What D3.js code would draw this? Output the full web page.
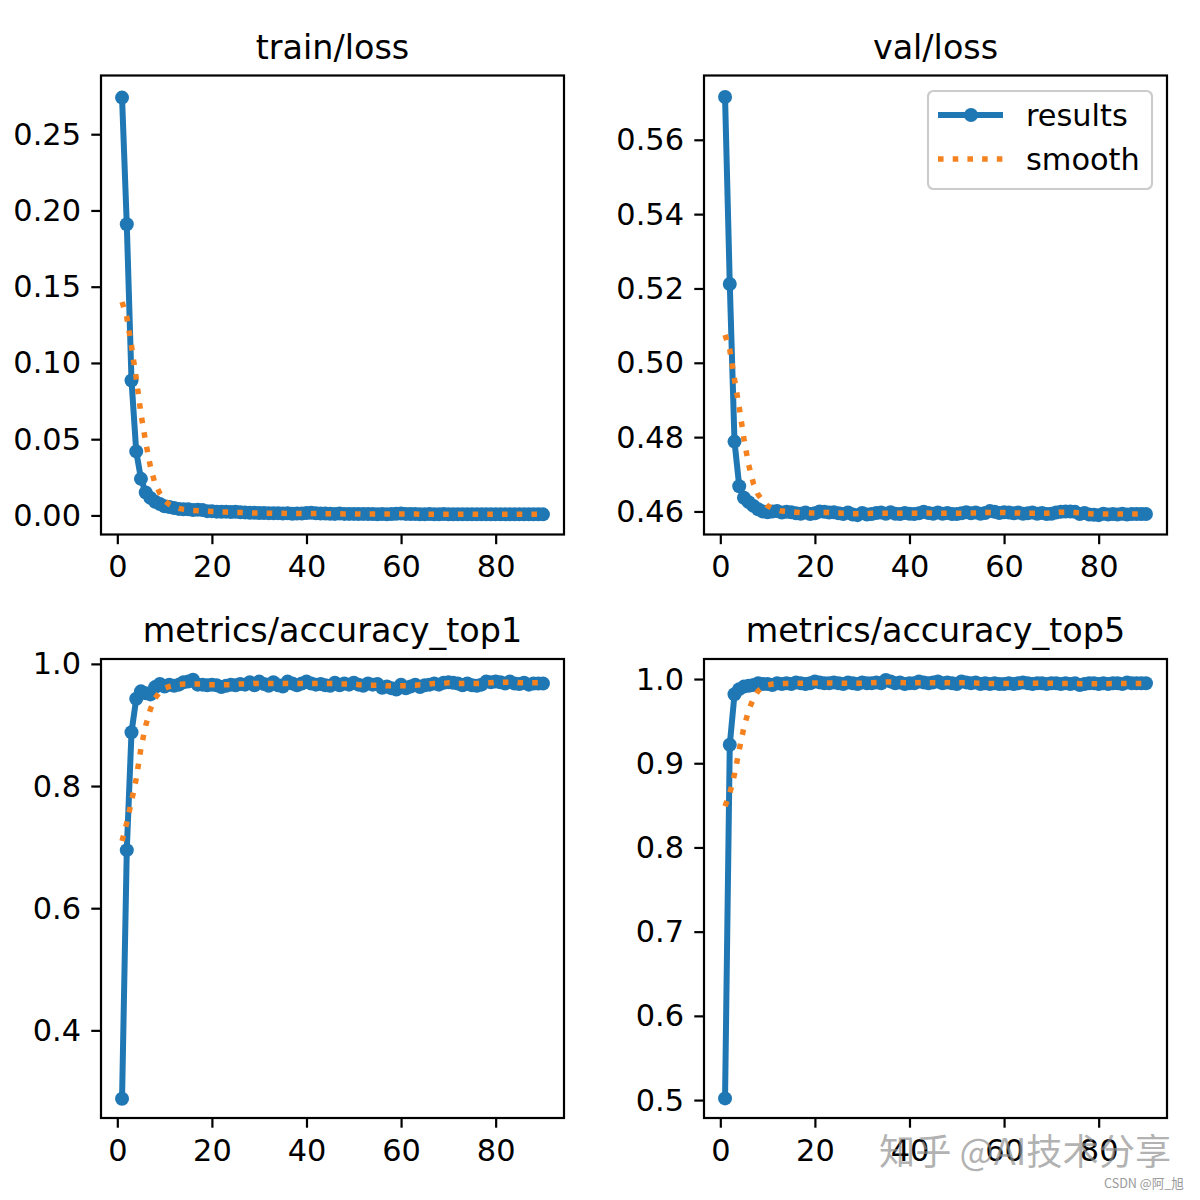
<!DOCTYPE html>
<html>
<head>
<meta charset="utf-8">
<script src="https://cdn.jsdelivr.net/npm/d3@7"></script>
<style>
  html, body { margin: 0; padding: 0; background: #fff; }
  svg { display: block; }
  text { font-family: "DejaVu Sans", sans-serif; fill: #000; }
</style>
</head>
<body>
<div id="chart"></div>
<script>
const epochs = d3.range(1, 91);

const trainLoss = [
  0.274, 0.191, 0.0885, 0.042, 0.024, 0.015, 0.0115, 0.009, 0.0075, 0.006,
  0.0055, 0.0048, 0.0043, 0.004, 0.004, 0.0035, 0.0038, 0.0035, 0.0028, 0.0028,
  0.0025, 0.0024, 0.0025, 0.0023, 0.0024, 0.0021, 0.002, 0.0017, 0.0018, 0.0016,
  0.0016, 0.0015, 0.0014, 0.0015, 0.0013, 0.0014, 0.0011, 0.0013, 0.0012, 0.0016,
  0.0017, 0.0014, 0.0012, 0.0012, 0.0011, 0.001, 0.0012, 0.001, 0.001, 0.001,
  0.0009, 0.001, 0.0009, 0.0009, 0.0008, 0.0009, 0.0008, 0.0009, 0.0011, 0.0012,
  0.001, 0.0009, 0.0009, 0.0008, 0.0008, 0.0009, 0.0008, 0.0008, 0.0009, 0.0008,
  0.0008, 0.0007, 0.0008, 0.0008, 0.0007, 0.0008, 0.0007, 0.0007, 0.0008, 0.0007,
  0.0007, 0.0007, 0.0008, 0.0007, 0.0007, 0.0007, 0.0007, 0.0007, 0.0007, 0.0007
];
const trainLossSmooth = [
  0.14, 0.13, 0.111, 0.09, 0.0665, 0.048, 0.032, 0.0205, 0.0145, 0.0098,
  0.0072, 0.0056, 0.0046, 0.004, 0.0036, 0.0033, 0.0031, 0.0029, 0.0027, 0.0026,
  0.0024, 0.0023, 0.0022, 0.0021, 0.002, 0.0019, 0.0018, 0.0017, 0.0016, 0.0016,
  0.0015, 0.0015, 0.0014, 0.0014, 0.0014, 0.0013, 0.0013, 0.0013, 0.0013, 0.0013,
  0.0012, 0.0012, 0.0012, 0.0011, 0.0011, 0.0011, 0.0011, 0.001, 0.001, 0.001,
  0.001, 0.0009, 0.0009, 0.0009, 0.0009, 0.0009, 0.0009, 0.0009, 0.0009, 0.0009,
  0.0009, 0.0009, 0.0009, 0.0008, 0.0008, 0.0008, 0.0008, 0.0008, 0.0008, 0.0008,
  0.0008, 0.0008, 0.0008, 0.0008, 0.0008, 0.0007, 0.0007, 0.0007, 0.0007, 0.0007,
  0.0007, 0.0007, 0.0007, 0.0007, 0.0007, 0.0007, 0.0007, 0.0007, 0.0007, 0.0007
];

const valLoss = [
  0.5715, 0.5212, 0.4788, 0.4668, 0.4637, 0.4625, 0.4615, 0.4606, 0.46, 0.4598,
  0.46, 0.4601, 0.4597, 0.4599, 0.4598, 0.4595, 0.4594, 0.4597, 0.4593, 0.4595,
  0.46, 0.4599, 0.4597, 0.4598, 0.4595, 0.4593, 0.4597, 0.4592, 0.459, 0.4596,
  0.4592, 0.4593, 0.4596, 0.4597, 0.4594, 0.4598, 0.4594, 0.4593, 0.4596, 0.4594,
  0.4593, 0.4595, 0.4599, 0.4596, 0.4594, 0.4597, 0.4594, 0.4596, 0.4593, 0.4593,
  0.4595, 0.4598, 0.4595, 0.4597, 0.4594, 0.4596, 0.4601, 0.4599, 0.4596, 0.4598,
  0.4597, 0.4595, 0.4597, 0.4594, 0.4595, 0.4597, 0.4594, 0.4596, 0.4593, 0.4594,
  0.4597, 0.4599, 0.46, 0.46, 0.4599, 0.4593, 0.4596, 0.4592, 0.4591, 0.459,
  0.4594, 0.4592, 0.4593, 0.4592, 0.4594, 0.4592, 0.4593, 0.4593, 0.4593, 0.4593
];
const valLossSmooth = [
  0.5075, 0.5035, 0.4955, 0.488, 0.4795, 0.4725, 0.4675, 0.4645, 0.4628, 0.4615,
  0.4608, 0.4604, 0.4601, 0.46, 0.4599, 0.4598, 0.4597, 0.4597, 0.4596, 0.4596,
  0.4597, 0.4597, 0.4597, 0.4596, 0.4596, 0.4595, 0.4595, 0.4594, 0.4594, 0.4594,
  0.4594, 0.4595, 0.4595, 0.4595, 0.4595, 0.4595, 0.4595, 0.4595, 0.4595, 0.4595,
  0.4595, 0.4595, 0.4596, 0.4596, 0.4595, 0.4595, 0.4595, 0.4595, 0.4595, 0.4595,
  0.4595, 0.4596, 0.4596, 0.4596, 0.4596, 0.4597, 0.4597, 0.4597, 0.4597, 0.4597,
  0.4596, 0.4596, 0.4596, 0.4595, 0.4595, 0.4595, 0.4595, 0.4595, 0.4595, 0.4596,
  0.4597, 0.4598, 0.4598, 0.4598, 0.4597, 0.4596, 0.4595, 0.4594, 0.4593, 0.4593,
  0.4593, 0.4593, 0.4593, 0.4593, 0.4593, 0.4593, 0.4593, 0.4593, 0.4593, 0.4593
];

const top1 = [
  0.288, 0.695, 0.888, 0.943, 0.955, 0.952, 0.95, 0.962, 0.967, 0.963,
  0.966, 0.964, 0.966, 0.97, 0.971, 0.974, 0.966, 0.966, 0.965, 0.966,
  0.965, 0.962, 0.964, 0.966, 0.965, 0.967, 0.966, 0.97, 0.965, 0.971,
  0.967, 0.964, 0.97, 0.965, 0.963, 0.971, 0.968, 0.965, 0.968, 0.971,
  0.968, 0.966, 0.967, 0.965, 0.964, 0.969, 0.965, 0.968, 0.966, 0.969,
  0.966, 0.964, 0.968, 0.966, 0.967, 0.961, 0.963, 0.96, 0.958, 0.966,
  0.96, 0.963, 0.966, 0.962, 0.965, 0.966, 0.968, 0.966, 0.969, 0.97,
  0.969, 0.968, 0.965, 0.968, 0.965, 0.964, 0.966, 0.971, 0.97, 0.971,
  0.97, 0.968, 0.971, 0.968, 0.967, 0.969, 0.966, 0.968, 0.968, 0.968
];
const top1Smooth = [
  0.71, 0.74, 0.775, 0.812, 0.862, 0.899, 0.926, 0.944, 0.954, 0.96,
  0.963, 0.965, 0.966, 0.967, 0.967, 0.967, 0.967, 0.967, 0.966, 0.966,
  0.966, 0.966, 0.966, 0.966, 0.966, 0.967, 0.967, 0.967, 0.968, 0.968,
  0.968, 0.968, 0.968, 0.968, 0.968, 0.968, 0.968, 0.968, 0.968, 0.968,
  0.968, 0.968, 0.968, 0.968, 0.968, 0.968, 0.967, 0.967, 0.967, 0.967,
  0.966, 0.966, 0.965, 0.965, 0.965, 0.965, 0.964, 0.964, 0.964, 0.964,
  0.964, 0.965, 0.965, 0.966, 0.966, 0.967, 0.968, 0.968, 0.968, 0.969,
  0.969, 0.968, 0.968, 0.968, 0.968, 0.968, 0.968, 0.969, 0.969, 0.97,
  0.97, 0.97, 0.97, 0.97, 0.969, 0.969, 0.969, 0.969, 0.969, 0.969
];

const top5 = [
  0.502, 0.922, 0.982, 0.988, 0.991, 0.992, 0.993, 0.995, 0.994, 0.994,
  0.993, 0.995, 0.994, 0.995, 0.994, 0.996, 0.995, 0.994, 0.995, 0.997,
  0.996, 0.995, 0.995, 0.996, 0.995, 0.994, 0.996, 0.995, 0.994, 0.996,
  0.995, 0.995, 0.996, 0.995, 0.999, 0.997, 0.995, 0.996, 0.994, 0.995,
  0.995, 0.997, 0.996, 0.995, 0.996, 0.997, 0.995, 0.996, 0.995, 0.994,
  0.997, 0.996, 0.995, 0.996, 0.994, 0.995, 0.994, 0.995, 0.994, 0.994,
  0.995, 0.994, 0.995, 0.996, 0.995, 0.994, 0.995, 0.995, 0.994, 0.995,
  0.995, 0.994, 0.995, 0.994, 0.995, 0.993, 0.994, 0.995, 0.995, 0.994,
  0.995, 0.994, 0.995, 0.995, 0.994, 0.996, 0.995, 0.995, 0.995, 0.995
];
const top5Smooth = [
  0.849, 0.864, 0.887, 0.916, 0.943, 0.963, 0.977, 0.986, 0.99, 0.993,
  0.994, 0.9945, 0.9947, 0.9948, 0.9948, 0.995, 0.995, 0.995, 0.9952, 0.9953,
  0.9953, 0.9953, 0.9953, 0.9952, 0.9951, 0.995, 0.995, 0.995, 0.995, 0.995,
  0.9952, 0.9955, 0.9958, 0.996, 0.9965, 0.9965, 0.9962, 0.9958, 0.9955, 0.9955,
  0.9955, 0.9957, 0.9957, 0.9957, 0.9957, 0.9957, 0.9957, 0.9956, 0.9955, 0.9955,
  0.9956, 0.9956, 0.9955, 0.9953, 0.9951, 0.995, 0.9948, 0.9947, 0.9947, 0.9947,
  0.9947, 0.9948, 0.9949, 0.995, 0.995, 0.9949, 0.9949, 0.9949, 0.9949, 0.9949,
  0.9948, 0.9948, 0.9947, 0.9947, 0.9946, 0.9945, 0.9945, 0.9945, 0.9945, 0.9945,
  0.9945, 0.9945, 0.9946, 0.9946, 0.9947, 0.9948, 0.9948, 0.9948, 0.9948, 0.9948
];

const xTicks = [0, 20, 40, 60, 80];
const trainTicks = [0, 0.05, 0.1, 0.15, 0.2, 0.25];
const valTicks = [0.46, 0.48, 0.5, 0.52, 0.54, 0.56];
const top1Ticks = [0.4, 0.6, 0.8, 1.0];
const top5Ticks = [0.5, 0.6, 0.7, 0.8, 0.9, 1.0];

const BLUE = "#1f77b4";
const ORANGE = "#f5821f";
const FONT = 30.4;

const svg = d3.select("#chart").append("svg")
  .attr("width", 1200)
  .attr("height", 1200);

function drawPanel(cfg) {
  const { left, top, title, values, smooth, yDomain, yTicks, yFormat } = cfg;
  const w = 463, h = 459;
  const x = d3.scaleLinear().domain([-3.45, 94.45]).range([0, w]);
  const y = d3.scaleLinear().domain(yDomain).range([h, 0]);

  const g = svg.append("g").attr("transform", `translate(${left},${top})`);

  const line = d3.line().x((d, i) => x(epochs[i])).y(d => y(d));

  g.append("path")
    .datum(values)
    .attr("d", line)
    .attr("fill", "none")
    .attr("stroke", BLUE)
    .attr("stroke-width", 6)
    .attr("stroke-linejoin", "round");

  g.selectAll("circle")
    .data(values)
    .join("circle")
    .attr("cx", (d, i) => x(epochs[i]))
    .attr("cy", d => y(d))
    .attr("r", 7)
    .attr("fill", BLUE);

  g.append("path")
    .datum(smooth)
    .attr("d", line)
    .attr("fill", "none")
    .attr("stroke", ORANGE)
    .attr("stroke-width", 5.5)
    .attr("stroke-dasharray", "5.55 9.16");

  g.append("rect")
    .attr("width", w)
    .attr("height", h)
    .attr("fill", "none")
    .attr("stroke", "#000")
    .attr("stroke-width", 2.2);

  const xAxis = g.append("g")
    .attr("transform", `translate(0,${h})`)
    .call(d3.axisBottom(x).tickValues(xTicks).tickSize(9.7).tickPadding(11.5));
  const yAxis = g.append("g")
    .call(d3.axisLeft(y).tickValues(yTicks).tickFormat(d3.format(yFormat)).tickSize(9.7).tickPadding(10.3));

  [xAxis, yAxis].forEach(a => {
    a.select(".domain").remove();
    a.selectAll("line").attr("stroke", "#000").attr("stroke-width", 2.2);
    a.selectAll("text")
      .style("font-family", '"DejaVu Sans", sans-serif')
      .style("font-size", FONT + "px")
      .attr("fill", "#000");
  });
  yAxis.selectAll("text").attr("dy", "0.33em");

  g.append("text")
    .attr("x", w / 2)
    .attr("y", -17)
    .attr("text-anchor", "middle")
    .style("font-size", "33.4px")
    .text(title);
}

drawPanel({ left: 101, top: 75.5, title: "train/loss", values: trainLoss, smooth: trainLossSmooth,
  yDomain: [-0.0125, 0.2885], yTicks: trainTicks, yFormat: ".2f" });
drawPanel({ left: 704, top: 75.5, title: "val/loss", values: valLoss, smooth: valLossSmooth,
  yDomain: [0.4538, 0.5773], yTicks: valTicks, yFormat: ".2f" });
drawPanel({ left: 101, top: 659, title: "metrics/accuracy_top1", values: top1, smooth: top1Smooth,
  yDomain: [0.2565, 1.008], yTicks: top1Ticks, yFormat: ".1f" });
drawPanel({ left: 704, top: 659, title: "metrics/accuracy_top5", values: top5, smooth: top5Smooth,
  yDomain: [0.4787, 1.0238], yTicks: top5Ticks, yFormat: ".1f" });

// legend, only in the val/loss panel
const legend = svg.append("g").attr("transform", "translate(928,91)");
legend.append("rect")
  .attr("width", 224)
  .attr("height", 98)
  .attr("rx", 5.5)
  .attr("fill", "#fff")
  .attr("fill-opacity", 0.8)
  .attr("stroke", "#ccc")
  .attr("stroke-width", 2.2);
legend.append("line")
  .attr("x1", 10).attr("x2", 75).attr("y1", 24).attr("y2", 24)
  .attr("stroke", BLUE).attr("stroke-width", 6);
legend.append("circle")
  .attr("cx", 43).attr("cy", 24).attr("r", 7).attr("fill", BLUE);
legend.append("line")
  .attr("x1", 10).attr("x2", 75).attr("y1", 68).attr("y2", 68)
  .attr("stroke", ORANGE).attr("stroke-width", 5.5)
  .attr("stroke-dasharray", "5.55 9.16");
legend.append("text").attr("x", 98).attr("y", 35).style("font-size", FONT + "px").text("results");
legend.append("text").attr("x", 98).attr("y", 79).style("font-size", FONT + "px").text("smooth");

// watermarks on top of the picture, overlapping the tick labels as in the source image
svg.append("text")
  .attr("x", 879)
  .attr("y", 1165)
  .style("font-family", '"Noto Sans CJK SC", sans-serif')
  .style("font-size", "36.2px")
  .style("fill", "#8f8f8f")
  .style("fill-opacity", 0.7)
  .text("知乎 @AI技术分享");
svg.append("text")
  .attr("x", 1104)
  .attr("y", 1188)
  .style("font-family", '"Noto Sans CJK SC", sans-serif')
  .style("font-size", "12.6px")
  .style("fill", "#999")
  .text("CSDN @阿_旭");
</script>
</body>
</html>
